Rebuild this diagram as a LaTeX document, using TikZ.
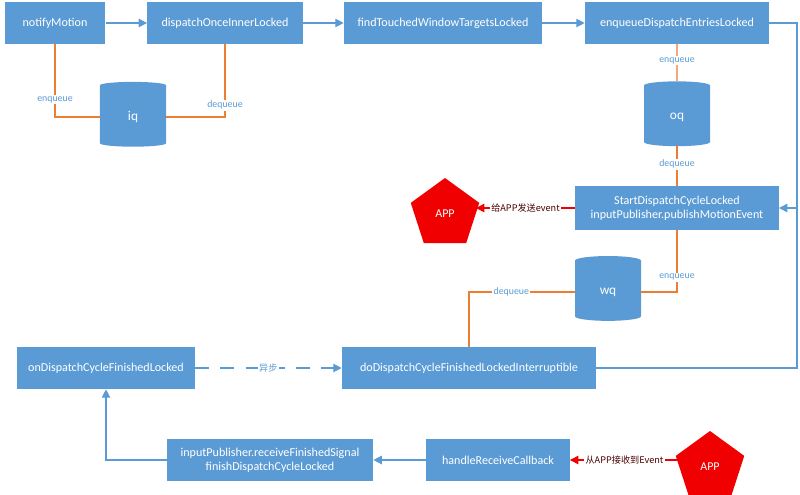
\documentclass[tikz,border=0pt]{standalone}
\usepackage{fontspec}
\setmainfont{Carlito}
\newfontfamily\cjk{Noto Sans CJK SC}
\usetikzlibrary{shapes.geometric,arrows.meta,positioning}
\definecolor{boxblue}{HTML}{5B9BD5}
\definecolor{lineorange}{HTML}{ED7D31}
\definecolor{appred}{HTML}{F00000}
\tikzset{
  func/.style={rectangle, fill=boxblue, text=white, font=\fontsize{8.6}{10.2}\selectfont, align=center, inner sep=0pt},
  queue/.style={cylinder, shape border rotate=90, aspect=0.35, fill=boxblue, text=white, minimum width=1.65cm, minimum height=1.62cm, font=\fontsize{9.5}{10}\selectfont},
  app/.style={regular polygon, regular polygon sides=5, fill=appred, text=white, minimum size=1.8cm, inner sep=0pt, font=\fontsize{8.5}{9}\selectfont},
  flow/.style={draw=boxblue, thick, -{Triangle[length=6pt,width=6pt]}},
  link/.style={draw=boxblue, thick},
  qline/.style={draw=lineorange, thick},
  sig/.style={draw=appred, thick, -{Triangle[length=6pt,width=6pt]}},
  lbl/.style={fill=white, text=boxblue, font=\fontsize{7}{8}\selectfont, inner sep=1pt},
  rlbl/.style={fill=white, text=black!70!red, font=\cjk\fontsize{6.5}{8}\selectfont, inner sep=1pt}
}
\begin{document}
\begin{tikzpicture}[x=0.025cm, y=-0.025cm]
\useasboundingbox (0,0) rectangle (800,494);
% functions
\node[func, minimum width=2.52cm, minimum height=1.03cm] (notify) at (55,23) {notifyMotion};
\node[func, minimum width=3.88cm, minimum height=1.03cm] (once) at (225,23) {dispatchOnceInnerLocked};
\node[func, minimum width=4.95cm, minimum height=1.03cm] (find) at (443,23) {findTouchedWindowTargetsLocked};
\node[func, minimum width=4.6cm, minimum height=1.03cm] (enq) at (677,23) {enqueueDispatchEntriesLocked};
\node[func, minimum width=5.08cm, minimum height=1.1cm] (start) at (677,208) {StartDispatchCycleLocked\\inputPublisher.publishMotionEvent};
\node[func, minimum width=4.43cm, minimum height=1.05cm] (onfin) at (106,368) {onDispatchCycleFinishedLocked};
\node[func, minimum width=6.35cm, minimum height=1.05cm] (dofin) at (469,368) {doDispatchCycleFinishedLockedInterruptible};
\node[func, minimum width=5.15cm, minimum height=1.05cm] (recv) at (270,460) {inputPublisher.receiveFinishedSignal\\finishDispatchCycleLocked};
\node[func, minimum width=3.58cm, minimum height=1.05cm] (handle) at (498,460) {handleReceiveCallback};
% queues
\node[queue] (iq) at (133,117) {iq};
\node[queue] (oq) at (677,117) {oq};
\node[queue] (wq) at (608,292) {wq};
% apps
\node[app] (app1) at (445,214) {APP};
\node[app] (app2) at (710,467) {APP};
\coordinate (edge1) at (797,368);

%arrow
\draw[flow] (notify) -- (once);
\draw[flow] (once) -- (find);
\draw[flow] (find) -- (enq);
\draw[link] (enq.east) -| (edge1);
\draw[flow] (dofin.east) -- (edge1) |- (start.east);
\draw[flow, dashed, dash pattern=on 10pt off 8pt] (onfin) -- node[lbl, text=boxblue, font=\cjk\fontsize{6.5}{8}\selectfont]{异步} (dofin);
\draw[flow] (handle) -- (recv);
\draw[flow] (recv.west) -| (onfin.south);
% queues
\draw[qline] (notify.south) |- node[lbl, pos=0.38]{enqueue} (iq.west);
\draw[qline] (iq.east) -| node[lbl, pos=0.58]{dequeue} (once.south);
\draw[qline] (enq) -- node[lbl, pos=0.45]{enqueue} (oq);
\draw[qline] (oq) -- node[lbl, pos=0.45]{dequeue} (start);
\draw[qline] (start.south) |- node[lbl, pos=0.38]{enqueue} (wq.east);
\draw[qline] (wq.west) -| node[lbl, pos=0.3]{dequeue} (dofin.north);
% app
\draw[sig] (start.west) -- node[rlbl]{给APP发送event} (app1.east |- start.west);
\draw[sig] (app2.west |- handle.east) -- node[rlbl]{从APP接收到Event} (handle.east);
\end{tikzpicture}
\end{document}
